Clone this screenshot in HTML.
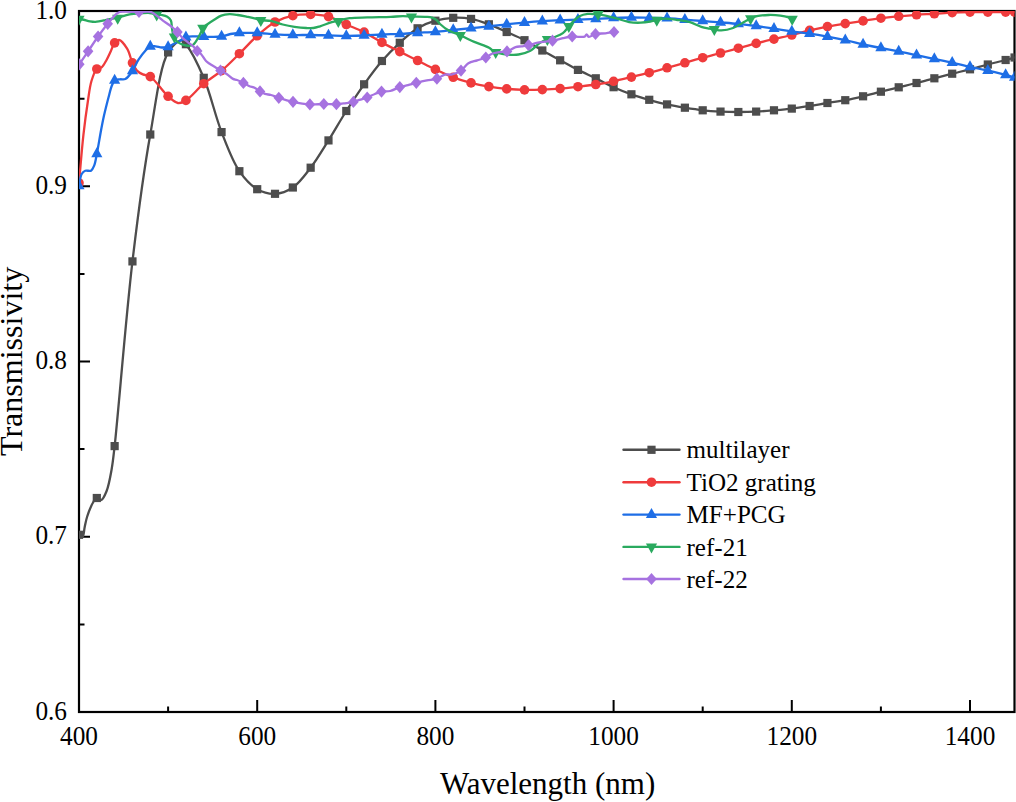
<!DOCTYPE html>
<html><head><meta charset="utf-8"><title>Transmissivity</title>
<style>html,body{margin:0;padding:0;background:#fff;}body{width:1016px;height:802px;overflow:hidden;font-family:"Liberation Serif",serif;}svg{display:block;}</style>
</head><body>
<svg width="1016" height="802" viewBox="0 0 1016 802">
<defs><clipPath id="pc"><rect x="79.0" y="11.0" width="935.5" height="701.0"/></clipPath></defs>
<rect width="1016" height="802" fill="#fff"/>
<rect x="79.0" y="11.0" width="935.5" height="701.0" fill="none" stroke="#000" stroke-width="2.2"/>
<path d="M79.00,712.00V700.00M168.10,712.00V706.50M257.20,712.00V700.00M346.30,712.00V706.50M435.40,712.00V700.00M524.50,712.00V706.50M613.60,712.00V700.00M702.70,712.00V706.50M791.80,712.00V700.00M880.90,712.00V706.50M970.00,712.00V700.00M79.00,712.00H90.00M79.00,624.38H84.50M79.00,536.75H90.00M79.00,449.12H84.50M79.00,361.50H90.00M79.00,273.88H84.50M79.00,186.25H90.00M79.00,98.63H84.50M79.00,11.00H90.00" stroke="#000" stroke-width="2" fill="none"/>
<g clip-path="url(#pc)" fill="none" stroke-width="2" stroke-linejoin="round" stroke-linecap="round">
<path d="M79.00,534.80C80.16,535.53 81.58,537.37 82.47,537.00C83.88,536.42 83.93,530.37 84.70,527.00C85.50,523.54 85.96,520.25 87.20,516.50C88.72,511.88 91.58,504.66 93.61,501.50C94.71,499.80 95.55,498.26 96.82,498.00C98.10,497.74 99.90,500.44 101.28,500.00C103.29,499.36 105.10,494.77 106.62,491.00C108.80,485.59 110.20,477.26 111.52,470.00C112.91,462.32 113.31,457.83 114.64,446.10C118.33,413.54 125.86,317.14 132.46,261.40C137.94,215.08 143.57,172.10 150.28,134.50C155.71,104.05 159.65,67.01 168.10,52.40C172.02,45.63 178.19,40.33 181.47,40.30C183.34,40.28 184.19,42.02 185.92,44.20C190.30,49.73 198.29,65.00 203.74,77.80C210.42,93.49 215.13,115.64 221.56,132.10C227.13,146.37 232.42,161.12 239.38,171.20C244.72,178.94 250.70,185.47 257.20,189.20C262.74,192.38 269.12,194.06 275.02,193.80C281.00,193.54 287.33,191.18 292.84,187.50C299.38,183.13 304.99,175.07 310.66,167.70C316.93,159.54 322.62,149.72 328.48,140.40C334.50,130.83 340.25,120.50 346.30,111.00C352.14,101.82 358.04,92.80 364.12,84.30C369.93,76.17 375.78,68.12 381.94,61.00C387.68,54.37 393.66,48.37 399.76,42.80C405.55,37.51 411.36,32.05 417.58,28.30C423.29,24.85 429.35,22.45 435.40,20.70C441.24,19.01 447.26,18.10 453.22,17.80C459.14,17.50 465.16,17.84 471.04,18.90C477.04,19.98 482.98,22.15 488.86,24.30C494.86,26.50 500.76,29.36 506.68,32.00C512.64,34.66 518.63,37.16 524.50,40.20C530.51,43.31 536.36,47.14 542.32,50.50C548.24,53.84 554.19,57.06 560.14,60.30C566.07,63.53 571.98,66.88 577.96,69.90C583.86,72.88 589.86,75.43 595.78,78.30C601.74,81.19 607.60,84.51 613.60,87.20C619.49,89.84 625.44,92.19 631.42,94.30C637.32,96.38 643.28,98.11 649.24,99.80C655.16,101.48 661.10,103.08 667.06,104.40C672.98,105.71 678.93,106.72 684.88,107.70C690.81,108.68 696.75,109.65 702.70,110.30C708.63,110.95 714.58,111.32 720.52,111.60C726.46,111.88 732.40,112.00 738.34,112.00C744.28,112.00 750.22,111.88 756.16,111.60C762.10,111.32 768.04,110.80 773.98,110.30C779.92,109.80 785.87,109.32 791.80,108.60C797.75,107.88 803.69,106.93 809.62,106.00C815.57,105.07 821.50,103.97 827.44,103.00C833.38,102.03 839.34,101.31 845.26,100.20C851.22,99.08 857.15,97.71 863.08,96.30C869.03,94.88 874.96,93.20 880.90,91.70C886.84,90.20 892.78,88.75 898.72,87.30C904.66,85.85 910.61,84.50 916.54,83.00C922.49,81.50 928.42,79.85 934.36,78.30C940.30,76.75 946.24,75.20 952.18,73.70C958.12,72.20 964.07,70.83 970.00,69.30C975.95,67.76 981.87,66.05 987.82,64.50C993.75,62.95 1000.73,61.31 1005.64,60.00C1009.13,59.07 1011.58,58.33 1014.55,57.50" stroke="#4d4d4d" stroke-width="2.3"/>
<g fill="#4d4d4d" stroke="none"><rect x="74.90" y="530.70" width="8.20" height="8.20"/><rect x="92.72" y="493.90" width="8.20" height="8.20"/><rect x="110.54" y="442.00" width="8.20" height="8.20"/><rect x="128.36" y="257.30" width="8.20" height="8.20"/><rect x="146.18" y="130.40" width="8.20" height="8.20"/><rect x="164.00" y="48.30" width="8.20" height="8.20"/><rect x="181.82" y="40.10" width="8.20" height="8.20"/><rect x="199.64" y="73.70" width="8.20" height="8.20"/><rect x="217.46" y="128.00" width="8.20" height="8.20"/><rect x="235.28" y="167.10" width="8.20" height="8.20"/><rect x="253.10" y="185.10" width="8.20" height="8.20"/><rect x="270.92" y="189.70" width="8.20" height="8.20"/><rect x="288.74" y="183.40" width="8.20" height="8.20"/><rect x="306.56" y="163.60" width="8.20" height="8.20"/><rect x="324.38" y="136.30" width="8.20" height="8.20"/><rect x="342.20" y="106.90" width="8.20" height="8.20"/><rect x="360.02" y="80.20" width="8.20" height="8.20"/><rect x="377.84" y="56.90" width="8.20" height="8.20"/><rect x="395.66" y="38.70" width="8.20" height="8.20"/><rect x="413.48" y="24.20" width="8.20" height="8.20"/><rect x="431.30" y="16.60" width="8.20" height="8.20"/><rect x="449.12" y="13.70" width="8.20" height="8.20"/><rect x="466.94" y="14.80" width="8.20" height="8.20"/><rect x="484.76" y="20.20" width="8.20" height="8.20"/><rect x="502.58" y="27.90" width="8.20" height="8.20"/><rect x="520.40" y="36.10" width="8.20" height="8.20"/><rect x="538.22" y="46.40" width="8.20" height="8.20"/><rect x="556.04" y="56.20" width="8.20" height="8.20"/><rect x="573.86" y="65.80" width="8.20" height="8.20"/><rect x="591.68" y="74.20" width="8.20" height="8.20"/><rect x="609.50" y="83.10" width="8.20" height="8.20"/><rect x="627.32" y="90.20" width="8.20" height="8.20"/><rect x="645.14" y="95.70" width="8.20" height="8.20"/><rect x="662.96" y="100.30" width="8.20" height="8.20"/><rect x="680.78" y="103.60" width="8.20" height="8.20"/><rect x="698.60" y="106.20" width="8.20" height="8.20"/><rect x="716.42" y="107.50" width="8.20" height="8.20"/><rect x="734.24" y="107.90" width="8.20" height="8.20"/><rect x="752.06" y="107.50" width="8.20" height="8.20"/><rect x="769.88" y="106.20" width="8.20" height="8.20"/><rect x="787.70" y="104.50" width="8.20" height="8.20"/><rect x="805.52" y="101.90" width="8.20" height="8.20"/><rect x="823.34" y="98.90" width="8.20" height="8.20"/><rect x="841.16" y="96.10" width="8.20" height="8.20"/><rect x="858.98" y="92.20" width="8.20" height="8.20"/><rect x="876.80" y="87.60" width="8.20" height="8.20"/><rect x="894.62" y="83.20" width="8.20" height="8.20"/><rect x="912.44" y="78.90" width="8.20" height="8.20"/><rect x="930.26" y="74.20" width="8.20" height="8.20"/><rect x="948.08" y="69.60" width="8.20" height="8.20"/><rect x="965.90" y="65.20" width="8.20" height="8.20"/><rect x="983.72" y="60.40" width="8.20" height="8.20"/><rect x="1001.54" y="55.90" width="8.20" height="8.20"/><rect x="1010.45" y="53.40" width="8.20" height="8.20"/></g>
<path d="M79.00,183.00C80.48,166.90 81.81,149.34 83.45,134.70C84.83,122.44 86.40,110.76 87.91,101.00C89.08,93.45 89.72,86.73 91.47,81.00C92.89,76.39 94.55,71.10 96.82,69.00C98.23,67.69 100.18,68.42 101.63,67.30C103.53,65.83 105.03,62.62 106.53,60.00C108.14,57.21 109.51,53.93 110.90,51.00C112.21,48.24 113.01,44.78 114.64,42.90C115.90,41.45 117.49,39.80 119.09,40.00C121.49,40.30 124.96,45.21 127.11,48.70C129.55,52.64 130.60,58.85 132.46,62.80C133.90,65.85 135.03,68.62 136.91,70.60C138.59,72.36 140.71,73.41 142.88,74.40C145.15,75.43 147.56,74.88 150.28,76.60C155.33,79.78 162.79,91.67 168.10,96.30C171.65,99.40 174.69,102.54 177.90,103.00C180.61,103.39 182.94,102.16 185.92,100.40C190.98,97.41 197.64,88.75 203.74,83.70C209.54,78.90 215.77,75.53 221.56,70.70C227.67,65.59 233.48,59.48 239.38,53.70C245.36,47.85 251.08,41.20 257.20,35.80C262.98,30.70 268.79,25.40 275.02,22.00C280.72,18.89 286.81,16.96 292.84,15.70C298.70,14.47 304.73,14.25 310.66,14.40C316.61,14.55 322.66,14.99 328.48,16.60C334.55,18.28 340.35,21.91 346.30,24.50C352.23,27.08 358.27,29.17 364.12,32.10C370.15,35.12 375.96,39.13 381.94,42.40C387.84,45.63 393.81,48.58 399.76,51.60C405.69,54.61 411.64,57.53 417.58,60.50C423.52,63.47 429.43,66.59 435.40,69.40C441.31,72.18 447.22,75.03 453.22,77.30C459.10,79.52 465.06,81.34 471.04,82.90C476.94,84.44 482.90,85.60 488.86,86.60C494.78,87.60 500.73,88.35 506.68,88.90C512.61,89.45 518.56,89.78 524.50,89.90C530.44,90.02 536.38,89.82 542.32,89.60C548.26,89.38 554.21,89.08 560.14,88.60C566.09,88.12 572.02,87.38 577.96,86.70C583.90,86.02 589.85,85.40 595.78,84.50C601.73,83.60 607.68,82.53 613.60,81.30C619.56,80.06 625.48,78.53 631.42,77.10C637.36,75.67 643.31,74.25 649.24,72.70C655.19,71.15 661.12,69.45 667.06,67.80C673.00,66.15 678.94,64.48 684.88,62.80C690.82,61.12 696.75,59.34 702.70,57.70C708.63,56.07 714.58,54.58 720.52,53.00C726.46,51.42 732.40,49.80 738.34,48.20C744.28,46.60 750.21,44.92 756.16,43.40C762.09,41.89 768.04,40.50 773.98,39.10C779.92,37.70 785.87,36.46 791.80,35.00C797.75,33.53 803.66,31.70 809.62,30.30C815.54,28.91 821.49,27.72 827.44,26.60C833.37,25.49 839.32,24.55 845.26,23.60C851.20,22.65 857.14,21.80 863.08,20.90C869.02,20.00 874.95,18.97 880.90,18.20C886.83,17.43 892.78,16.87 898.72,16.30C904.66,15.73 910.60,15.22 916.54,14.80C922.48,14.38 928.42,14.17 934.36,13.80C940.30,13.43 946.24,12.88 952.18,12.60C958.12,12.32 964.06,12.18 970.00,12.10C975.94,12.02 981.88,12.10 987.82,12.10C993.76,12.10 1000.72,12.07 1005.64,12.10C1009.12,12.12 1011.58,12.17 1014.55,12.20" stroke="#ef3b3c" stroke-width="2.3"/>
<g fill="#ef3b3c" stroke="none"><circle cx="79.00" cy="183.00" r="4.80"/><circle cx="96.82" cy="69.00" r="4.80"/><circle cx="114.64" cy="42.90" r="4.80"/><circle cx="132.46" cy="62.80" r="4.80"/><circle cx="150.28" cy="76.60" r="4.80"/><circle cx="168.10" cy="96.30" r="4.80"/><circle cx="185.92" cy="100.40" r="4.80"/><circle cx="203.74" cy="83.70" r="4.80"/><circle cx="221.56" cy="70.70" r="4.80"/><circle cx="239.38" cy="53.70" r="4.80"/><circle cx="257.20" cy="35.80" r="4.80"/><circle cx="275.02" cy="22.00" r="4.80"/><circle cx="292.84" cy="15.70" r="4.80"/><circle cx="310.66" cy="14.40" r="4.80"/><circle cx="328.48" cy="16.60" r="4.80"/><circle cx="346.30" cy="24.50" r="4.80"/><circle cx="364.12" cy="32.10" r="4.80"/><circle cx="381.94" cy="42.40" r="4.80"/><circle cx="399.76" cy="51.60" r="4.80"/><circle cx="417.58" cy="60.50" r="4.80"/><circle cx="435.40" cy="69.40" r="4.80"/><circle cx="453.22" cy="77.30" r="4.80"/><circle cx="471.04" cy="82.90" r="4.80"/><circle cx="488.86" cy="86.60" r="4.80"/><circle cx="506.68" cy="88.90" r="4.80"/><circle cx="524.50" cy="89.90" r="4.80"/><circle cx="542.32" cy="89.60" r="4.80"/><circle cx="560.14" cy="88.60" r="4.80"/><circle cx="577.96" cy="86.70" r="4.80"/><circle cx="595.78" cy="84.50" r="4.80"/><circle cx="613.60" cy="81.30" r="4.80"/><circle cx="631.42" cy="77.10" r="4.80"/><circle cx="649.24" cy="72.70" r="4.80"/><circle cx="667.06" cy="67.80" r="4.80"/><circle cx="684.88" cy="62.80" r="4.80"/><circle cx="702.70" cy="57.70" r="4.80"/><circle cx="720.52" cy="53.00" r="4.80"/><circle cx="738.34" cy="48.20" r="4.80"/><circle cx="756.16" cy="43.40" r="4.80"/><circle cx="773.98" cy="39.10" r="4.80"/><circle cx="791.80" cy="35.00" r="4.80"/><circle cx="809.62" cy="30.30" r="4.80"/><circle cx="827.44" cy="26.60" r="4.80"/><circle cx="845.26" cy="23.60" r="4.80"/><circle cx="863.08" cy="20.90" r="4.80"/><circle cx="880.90" cy="18.20" r="4.80"/><circle cx="898.72" cy="16.30" r="4.80"/><circle cx="916.54" cy="14.80" r="4.80"/><circle cx="934.36" cy="13.80" r="4.80"/><circle cx="952.18" cy="12.60" r="4.80"/><circle cx="970.00" cy="12.10" r="4.80"/><circle cx="987.82" cy="12.10" r="4.80"/><circle cx="1005.64" cy="12.10" r="4.80"/><circle cx="1014.55" cy="12.20" r="4.80"/></g>
<path d="M79.00,186.00C79.89,182.00 80.17,176.62 81.67,174.00C82.62,172.35 83.77,171.27 85.24,170.70C86.84,170.07 89.55,171.53 91.03,170.70C92.53,169.86 93.28,167.73 94.15,165.60C95.38,162.59 95.89,158.58 96.82,154.00C98.16,147.45 99.82,136.78 101.10,130.00C102.04,125.00 102.73,121.32 103.68,117.00C104.63,112.66 105.80,107.99 106.80,104.00C107.66,100.58 108.47,97.53 109.29,94.50C110.05,91.72 110.56,88.93 111.52,86.50C112.39,84.31 113.11,81.68 114.64,80.50C116.02,79.44 118.19,79.55 119.99,79.30C121.76,79.05 123.59,79.84 125.33,79.00C127.79,77.81 130.32,74.06 132.46,71.00C134.84,67.59 136.01,63.12 138.70,59.30C141.76,54.94 146.84,48.10 150.28,46.50C152.19,45.61 153.78,46.16 155.63,46.30C157.63,46.45 159.78,47.42 161.86,47.50C163.94,47.58 166.15,47.40 168.10,46.80C170.01,46.22 171.53,44.98 173.45,44.00C175.65,42.87 178.39,41.60 180.57,40.40C182.50,39.34 183.93,37.89 185.92,37.20C188.06,36.46 190.43,36.42 193.05,36.30C196.25,36.16 199.72,36.65 203.74,36.70C208.92,36.77 216.68,37.20 221.56,36.50C225.08,36.00 227.48,34.58 230.47,34.00C233.42,33.43 235.89,33.20 239.38,33.00C244.29,32.73 251.26,32.78 257.20,33.00C263.14,33.22 269.08,33.97 275.02,34.30C280.96,34.63 286.90,34.88 292.84,35.00C298.78,35.12 304.72,34.93 310.66,35.00C316.60,35.07 322.54,35.27 328.48,35.40C334.42,35.53 340.36,35.78 346.30,35.80C352.24,35.82 358.18,35.72 364.12,35.50C370.06,35.28 376.00,34.77 381.94,34.50C387.88,34.23 393.82,34.18 399.76,33.90C405.70,33.62 411.64,33.15 417.58,32.80C423.52,32.45 429.47,32.27 435.40,31.80C441.35,31.33 447.28,30.60 453.22,30.00C459.16,29.40 465.10,28.80 471.04,28.20C476.98,27.60 482.92,27.05 488.86,26.40C494.80,25.75 500.74,24.93 506.68,24.30C512.62,23.67 518.56,23.12 524.50,22.60C530.44,22.08 536.38,21.60 542.32,21.20C548.26,20.80 554.20,20.47 560.14,20.20C566.08,19.93 572.02,19.83 577.96,19.60C583.90,19.37 589.84,19.07 595.78,18.80C601.72,18.53 607.66,18.22 613.60,18.00C619.54,17.78 625.48,17.53 631.42,17.50C637.36,17.47 643.30,17.68 649.24,17.80C655.18,17.92 661.12,17.90 667.06,18.20C673.00,18.50 678.94,19.13 684.88,19.60C690.82,20.07 696.76,20.53 702.70,21.00C708.64,21.47 714.58,21.92 720.52,22.40C726.46,22.88 732.40,23.30 738.34,23.90C744.29,24.50 750.23,25.22 756.16,26.00C762.11,26.78 768.04,27.72 773.98,28.60C779.92,29.48 785.86,30.45 791.80,31.30C797.74,32.15 803.69,32.80 809.62,33.70C815.57,34.60 821.51,35.62 827.44,36.70C833.39,37.78 839.33,38.94 845.26,40.20C851.21,41.47 857.13,43.00 863.08,44.30C869.01,45.60 874.95,46.83 880.90,48.00C886.83,49.17 892.79,50.10 898.72,51.30C904.67,52.50 910.60,53.93 916.54,55.20C922.48,56.47 928.42,57.67 934.36,58.90C940.30,60.13 946.25,61.29 952.18,62.60C958.13,63.92 964.05,65.45 970.00,66.80C975.93,68.15 981.89,69.35 987.82,70.70C993.77,72.05 1000.73,73.63 1005.64,74.90C1009.13,75.80 1011.58,76.57 1014.55,77.40" stroke="#1e6ee6" stroke-width="2.3"/>
<g fill="#1e6ee6" stroke="none"><path d="M79.00,179.33L84.60,189.33L73.40,189.33Z"/><path d="M96.82,147.33L102.42,157.33L91.22,157.33Z"/><path d="M114.64,73.83L120.24,83.83L109.04,83.83Z"/><path d="M132.46,64.33L138.06,74.33L126.86,74.33Z"/><path d="M150.28,39.83L155.88,49.83L144.68,49.83Z"/><path d="M168.10,40.13L173.70,50.13L162.50,50.13Z"/><path d="M185.92,30.53L191.52,40.53L180.32,40.53Z"/><path d="M203.74,30.03L209.34,40.03L198.14,40.03Z"/><path d="M221.56,29.83L227.16,39.83L215.96,39.83Z"/><path d="M239.38,26.33L244.98,36.33L233.78,36.33Z"/><path d="M257.20,26.33L262.80,36.33L251.60,36.33Z"/><path d="M275.02,27.63L280.62,37.63L269.42,37.63Z"/><path d="M292.84,28.33L298.44,38.33L287.24,38.33Z"/><path d="M310.66,28.33L316.26,38.33L305.06,38.33Z"/><path d="M328.48,28.73L334.08,38.73L322.88,38.73Z"/><path d="M346.30,29.13L351.90,39.13L340.70,39.13Z"/><path d="M364.12,28.83L369.72,38.83L358.52,38.83Z"/><path d="M381.94,27.83L387.54,37.83L376.34,37.83Z"/><path d="M399.76,27.23L405.36,37.23L394.16,37.23Z"/><path d="M417.58,26.13L423.18,36.13L411.98,36.13Z"/><path d="M435.40,25.13L441.00,35.13L429.80,35.13Z"/><path d="M453.22,23.33L458.82,33.33L447.62,33.33Z"/><path d="M471.04,21.53L476.64,31.53L465.44,31.53Z"/><path d="M488.86,19.73L494.46,29.73L483.26,29.73Z"/><path d="M506.68,17.63L512.28,27.63L501.08,27.63Z"/><path d="M524.50,15.93L530.10,25.93L518.90,25.93Z"/><path d="M542.32,14.53L547.92,24.53L536.72,24.53Z"/><path d="M560.14,13.53L565.74,23.53L554.54,23.53Z"/><path d="M577.96,12.93L583.56,22.93L572.36,22.93Z"/><path d="M595.78,12.13L601.38,22.13L590.18,22.13Z"/><path d="M613.60,11.33L619.20,21.33L608.00,21.33Z"/><path d="M631.42,10.83L637.02,20.83L625.82,20.83Z"/><path d="M649.24,11.13L654.84,21.13L643.64,21.13Z"/><path d="M667.06,11.53L672.66,21.53L661.46,21.53Z"/><path d="M684.88,12.93L690.48,22.93L679.28,22.93Z"/><path d="M702.70,14.33L708.30,24.33L697.10,24.33Z"/><path d="M720.52,15.73L726.12,25.73L714.92,25.73Z"/><path d="M738.34,17.23L743.94,27.23L732.74,27.23Z"/><path d="M756.16,19.33L761.76,29.33L750.56,29.33Z"/><path d="M773.98,21.93L779.58,31.93L768.38,31.93Z"/><path d="M791.80,24.63L797.40,34.63L786.20,34.63Z"/><path d="M809.62,27.03L815.22,37.03L804.02,37.03Z"/><path d="M827.44,30.03L833.04,40.03L821.84,40.03Z"/><path d="M845.26,33.53L850.86,43.53L839.66,43.53Z"/><path d="M863.08,37.63L868.68,47.63L857.48,47.63Z"/><path d="M880.90,41.33L886.50,51.33L875.30,51.33Z"/><path d="M898.72,44.63L904.32,54.63L893.12,54.63Z"/><path d="M916.54,48.53L922.14,58.53L910.94,58.53Z"/><path d="M934.36,52.23L939.96,62.23L928.76,62.23Z"/><path d="M952.18,55.93L957.78,65.93L946.58,65.93Z"/><path d="M970.00,60.13L975.60,70.13L964.40,70.13Z"/><path d="M987.82,64.03L993.42,74.03L982.22,74.03Z"/><path d="M1005.64,68.23L1011.24,78.23L1000.04,78.23Z"/><path d="M1014.55,70.73L1020.15,80.73L1008.95,80.73Z"/></g>
<path d="M79.00,19.20C80.13,19.30 81.05,19.27 82.40,19.50C84.44,19.84 87.67,21.00 90.00,21.40C91.94,21.73 93.68,21.95 95.40,21.90C97.00,21.85 98.40,21.48 100.00,21.20C101.75,20.89 103.67,20.47 105.50,20.10C107.33,19.73 109.08,19.39 111.00,19.00C113.12,18.57 115.16,18.21 117.70,17.60C121.09,16.79 125.54,15.12 129.50,14.40C133.40,13.69 137.71,13.53 141.30,13.30C144.31,13.11 146.95,12.81 149.60,13.00C152.07,13.18 154.57,13.95 156.70,14.30C158.43,14.59 159.76,14.63 161.40,15.00C163.27,15.42 165.67,15.82 167.30,16.80C168.78,17.69 170.10,18.78 170.90,20.40C171.92,22.46 171.54,25.95 172.00,28.60C172.44,31.14 172.72,33.82 173.60,36.00C174.39,37.96 175.35,39.79 176.80,41.20C178.34,42.69 180.57,43.85 182.70,44.60C184.89,45.37 187.86,45.85 189.80,45.70C191.19,45.60 192.18,45.41 193.30,44.60C194.96,43.40 196.61,40.37 198.00,38.10C199.38,35.84 200.70,32.91 201.60,31.00C202.20,29.73 202.24,28.79 203.00,27.80C203.93,26.58 205.52,25.66 207.10,24.50C209.11,23.03 211.81,21.29 214.20,19.80C216.55,18.33 218.76,16.53 221.30,15.60C223.85,14.66 226.75,14.30 229.50,14.20C232.25,14.10 234.96,14.59 237.80,15.00C240.85,15.44 244.17,16.18 247.20,16.80C250.06,17.38 253.05,17.97 255.50,18.60C257.48,19.11 258.73,19.82 260.80,20.20C263.60,20.71 267.44,20.26 270.90,20.90C274.72,21.61 278.74,23.51 282.70,24.50C286.61,25.47 290.55,26.22 294.50,26.80C298.42,27.38 302.86,27.83 306.30,28.00C308.96,28.13 311.09,28.29 313.40,28.00C315.66,27.71 317.50,27.06 320.00,26.30C323.39,25.26 328.43,23.11 331.80,22.10C334.27,21.36 335.83,21.06 338.30,20.50C341.52,19.77 345.32,18.72 349.50,18.20C354.71,17.55 360.87,17.62 367.20,17.40C374.52,17.14 384.36,17.05 390.90,16.80C395.51,16.62 399.05,16.23 402.70,16.20C405.85,16.17 408.19,16.41 411.50,16.50C415.80,16.62 422.53,16.50 426.30,16.80C428.65,16.99 430.26,17.03 432.00,17.60C433.64,18.13 435.18,18.95 436.50,20.00C437.85,21.07 438.46,22.58 440.00,24.00C442.26,26.08 445.86,28.93 449.20,30.80C452.62,32.71 456.41,33.60 460.30,35.30C464.72,37.24 469.54,39.83 474.30,41.90C479.13,44.00 485.71,45.86 489.10,47.80C491.10,48.94 491.96,50.32 493.50,51.20C494.94,52.02 496.22,52.50 498.00,53.00C500.42,53.68 503.64,54.23 506.80,54.50C510.43,54.81 514.71,55.10 518.60,54.50C522.58,53.89 526.91,52.70 530.40,50.80C533.78,48.96 536.30,45.43 539.30,43.40C541.98,41.59 544.64,40.13 547.40,39.00C550.04,37.92 552.90,37.69 555.50,36.70C558.07,35.72 560.72,34.76 562.90,33.10C565.17,31.37 566.90,28.56 568.80,26.40C570.59,24.37 572.17,22.24 574.00,20.50C575.71,18.87 577.28,17.28 579.40,16.20C581.77,14.99 584.75,14.23 587.70,13.90C590.94,13.54 594.95,14.07 598.10,14.40C600.76,14.68 602.69,15.03 605.40,15.60C608.88,16.33 613.27,17.52 617.20,18.60C621.17,19.69 625.10,21.42 629.10,22.10C633.00,22.76 637.20,22.84 640.90,22.70C644.22,22.57 647.47,22.01 650.30,21.50C652.68,21.08 654.54,20.47 656.80,20.00C659.25,19.49 661.65,18.71 664.50,18.60C668.01,18.46 672.23,19.25 676.30,19.80C680.71,20.39 685.72,20.87 690.00,22.10C694.02,23.26 697.79,25.69 701.30,26.80C704.21,27.72 707.13,28.14 709.50,28.60C711.31,28.95 712.55,29.13 714.30,29.40C716.41,29.73 718.67,30.48 721.30,30.40C724.73,30.30 729.26,29.40 733.10,28.00C737.17,26.51 741.76,23.22 745.00,21.50C747.21,20.33 748.66,19.47 750.60,18.60C752.59,17.70 754.36,16.79 756.80,16.20C760.06,15.42 764.66,15.10 768.60,15.00C772.53,14.90 776.83,15.13 780.40,15.60C783.43,16.00 786.55,16.69 788.70,17.40C790.15,17.88 791.03,18.47 792.20,19.00" stroke="#2aaa5f" stroke-width="2.3"/>
<g fill="#2aaa5f" stroke="none"><path d="M73.40,15.87L84.60,15.87L79.00,25.87Z"/><path d="M112.10,14.67L123.30,14.67L117.70,24.67Z"/><path d="M151.10,11.57L162.30,11.57L156.70,21.57Z"/><path d="M168.80,33.57L180.00,33.57L174.40,43.57Z"/><path d="M197.20,24.67L208.40,24.67L202.80,34.67Z"/><path d="M255.20,17.07L266.40,17.07L260.80,27.07Z"/><path d="M332.70,17.97L343.90,17.97L338.30,27.97Z"/><path d="M405.90,13.47L417.10,13.47L411.50,23.47Z"/><path d="M454.70,31.97L465.90,31.97L460.30,41.97Z"/><path d="M490.10,48.97L501.30,48.97L495.70,58.97Z"/><path d="M541.80,36.07L553.00,36.07L547.40,46.07Z"/><path d="M563.20,23.07L574.40,23.07L568.80,33.07Z"/><path d="M592.50,11.07L603.70,11.07L598.10,21.07Z"/><path d="M651.20,16.67L662.40,16.67L656.80,26.67Z"/><path d="M708.70,26.07L719.90,26.07L714.30,36.07Z"/><path d="M745.00,15.27L756.20,15.27L750.60,25.27Z"/><path d="M786.60,15.87L797.80,15.87L792.20,25.87Z"/></g>
<path d="M79.30,64.30C82.23,59.97 85.07,55.77 88.10,51.30C91.33,46.53 94.74,41.20 98.10,36.50C101.27,32.06 104.37,27.80 107.70,23.80C110.91,19.95 114.52,14.73 117.70,12.90C119.73,11.73 121.15,11.83 123.60,11.60C127.51,11.23 134.21,11.94 139.00,12.00C143.19,12.05 147.64,11.11 150.80,12.00C153.22,12.68 154.78,14.24 156.70,15.60C158.72,17.03 160.60,18.90 162.60,20.40C164.54,21.86 166.66,23.17 168.50,24.50C170.17,25.70 171.72,26.73 173.20,28.00C174.68,29.27 175.95,30.57 177.40,32.10C179.10,33.88 180.80,36.30 182.70,38.10C184.54,39.85 186.73,41.36 188.60,42.80C190.24,44.07 191.88,44.95 193.30,46.30C194.75,47.68 195.84,49.67 197.20,51.00C198.42,52.19 199.74,52.68 201.00,54.00C202.68,55.76 204.29,59.25 206.00,61.00C207.31,62.34 208.57,63.04 210.00,64.00C211.55,65.04 213.30,65.95 215.00,67.00C216.80,68.11 218.58,69.34 220.50,70.50C222.56,71.74 224.93,72.81 227.00,74.20C229.09,75.61 231.11,77.95 233.00,78.90C234.39,79.60 235.53,79.47 237.00,80.00C238.91,80.69 241.36,81.87 243.40,82.90C245.35,83.88 247.06,85.15 249.00,86.00C250.93,86.85 253.15,87.08 255.00,88.00C256.81,88.90 258.30,90.40 260.00,91.40C261.64,92.36 263.21,93.30 265.00,93.90C266.87,94.52 268.89,94.43 271.00,95.00C273.46,95.66 275.79,96.84 278.80,97.80C282.81,99.08 288.03,100.72 293.00,101.80C298.35,102.96 304.53,104.07 309.90,104.40C314.75,104.70 319.28,104.03 323.80,104.00C328.10,103.97 332.71,104.36 336.40,104.20C339.31,104.07 341.50,103.76 344.20,103.40C347.15,103.01 350.67,102.57 353.40,101.90C355.67,101.35 357.35,100.59 359.50,99.90C361.91,99.13 364.66,98.47 367.20,97.50C369.80,96.51 372.41,95.02 374.90,94.00C377.17,93.07 379.11,92.11 381.50,91.60C384.16,91.04 387.28,91.67 390.20,91.00C393.38,90.26 396.69,88.10 399.80,87.10C402.61,86.19 405.26,85.81 408.00,85.10C410.76,84.38 413.36,83.54 416.30,82.80C419.59,81.97 423.32,81.09 426.80,80.40C430.19,79.73 433.81,79.73 436.90,78.70C439.78,77.74 442.14,75.29 444.80,74.60C447.21,73.98 449.60,74.95 452.10,74.40C454.98,73.77 458.32,72.40 461.00,70.60C463.78,68.74 465.60,65.01 468.40,63.30C471.04,61.69 474.29,61.37 477.20,60.40C480.08,59.44 483.23,58.70 485.80,57.50C488.10,56.42 489.76,54.58 492.00,53.70C494.28,52.80 496.91,52.58 499.40,52.20C501.91,51.81 504.46,52.14 507.00,51.40C509.85,50.57 512.94,47.92 515.60,47.10C517.69,46.45 519.44,46.60 521.50,46.30C523.76,45.97 526.10,45.75 528.60,45.20C531.49,44.57 534.35,43.31 537.80,42.60C542.10,41.72 548.04,41.52 552.50,40.70C556.29,40.00 559.52,38.91 562.90,38.20C566.08,37.53 569.78,36.66 572.20,36.50C573.74,36.40 574.48,36.67 576.00,36.70C578.29,36.75 582.83,37.42 584.60,36.60C585.65,36.11 585.92,34.30 586.60,34.30C587.32,34.30 587.75,36.65 588.80,36.90C590.34,37.26 592.99,34.61 595.50,34.00C598.43,33.29 602.22,33.65 605.40,33.30C608.37,32.97 611.13,32.43 614.00,32.00" stroke="#a672e0" stroke-width="2.3"/>
<g fill="#a672e0" stroke="none"><path d="M79.30,58.20L84.60,64.30L79.30,70.40L74.00,64.30Z"/><path d="M88.10,45.20L93.40,51.30L88.10,57.40L82.80,51.30Z"/><path d="M98.10,30.40L103.40,36.50L98.10,42.60L92.80,36.50Z"/><path d="M107.70,17.70L113.00,23.80L107.70,29.90L102.40,23.80Z"/><path d="M139.00,5.90L144.30,12.00L139.00,18.10L133.70,12.00Z"/><path d="M177.40,26.00L182.70,32.10L177.40,38.20L172.10,32.10Z"/><path d="M197.20,44.90L202.50,51.00L197.20,57.10L191.90,51.00Z"/><path d="M220.50,64.40L225.80,70.50L220.50,76.60L215.20,70.50Z"/><path d="M243.40,76.80L248.70,82.90L243.40,89.00L238.10,82.90Z"/><path d="M260.00,85.30L265.30,91.40L260.00,97.50L254.70,91.40Z"/><path d="M278.80,91.70L284.10,97.80L278.80,103.90L273.50,97.80Z"/><path d="M293.00,95.70L298.30,101.80L293.00,107.90L287.70,101.80Z"/><path d="M309.90,98.30L315.20,104.40L309.90,110.50L304.60,104.40Z"/><path d="M323.80,97.90L329.10,104.00L323.80,110.10L318.50,104.00Z"/><path d="M336.40,98.10L341.70,104.20L336.40,110.30L331.10,104.20Z"/><path d="M353.40,95.80L358.70,101.90L353.40,108.00L348.10,101.90Z"/><path d="M367.20,91.40L372.50,97.50L367.20,103.60L361.90,97.50Z"/><path d="M381.50,85.50L386.80,91.60L381.50,97.70L376.20,91.60Z"/><path d="M399.80,81.00L405.10,87.10L399.80,93.20L394.50,87.10Z"/><path d="M416.30,76.70L421.60,82.80L416.30,88.90L411.00,82.80Z"/><path d="M436.90,72.60L442.20,78.70L436.90,84.80L431.60,78.70Z"/><path d="M461.00,64.50L466.30,70.60L461.00,76.70L455.70,70.60Z"/><path d="M485.80,51.40L491.10,57.50L485.80,63.60L480.50,57.50Z"/><path d="M507.00,45.30L512.30,51.40L507.00,57.50L501.70,51.40Z"/><path d="M528.60,39.10L533.90,45.20L528.60,51.30L523.30,45.20Z"/><path d="M552.50,34.60L557.80,40.70L552.50,46.80L547.20,40.70Z"/><path d="M572.20,30.40L577.50,36.50L572.20,42.60L566.90,36.50Z"/><path d="M595.50,27.90L600.80,34.00L595.50,40.10L590.20,34.00Z"/><path d="M614.00,25.90L619.30,32.00L614.00,38.10L608.70,32.00Z"/></g>
</g>
<g font-family="Liberation Serif, serif" font-size="27.5" fill="#000">
<text transform="translate(67,719.60) scale(0.92,1)" text-anchor="end">0.6</text>
<text transform="translate(67,544.35) scale(0.92,1)" text-anchor="end">0.7</text>
<text transform="translate(67,369.10) scale(0.92,1)" text-anchor="end">0.8</text>
<text transform="translate(67,193.85) scale(0.92,1)" text-anchor="end">0.9</text>
<text transform="translate(67,18.60) scale(0.92,1)" text-anchor="end">1.0</text>
<text transform="translate(79.00,745.3) scale(0.92,1)" text-anchor="middle">400</text>
<text transform="translate(257.20,745.3) scale(0.92,1)" text-anchor="middle">600</text>
<text transform="translate(435.40,745.3) scale(0.92,1)" text-anchor="middle">800</text>
<text transform="translate(613.60,745.3) scale(0.92,1)" text-anchor="middle">1000</text>
<text transform="translate(791.80,745.3) scale(0.92,1)" text-anchor="middle">1200</text>
<text transform="translate(970.00,745.3) scale(0.92,1)" text-anchor="middle">1400</text>
</g>
<text x="547.6" y="794" text-anchor="middle" font-family="Liberation Serif, serif" font-size="31">Wavelength (nm)</text>
<text transform="translate(22,361.4) rotate(-90) scale(1.033,1)" text-anchor="middle" font-family="Liberation Serif, serif" font-size="31">Transmissivity</text>
<path d="M623.5,449.80H679.5" stroke="#4d4d4d" stroke-width="2.4" stroke-linecap="round"/>
<g fill="#4d4d4d"><rect x="647.40" y="445.70" width="8.20" height="8.20"/></g>
<text transform="translate(686.5,458.40) scale(0.965,1)" font-family="Liberation Serif, serif" font-size="26">multilayer</text>
<path d="M623.5,482.20H679.5" stroke="#ef3b3c" stroke-width="2.4" stroke-linecap="round"/>
<g fill="#ef3b3c"><circle cx="651.50" cy="482.20" r="4.80"/></g>
<text transform="translate(686.5,490.80) scale(0.965,1)" font-family="Liberation Serif, serif" font-size="26">TiO2 grating</text>
<path d="M623.5,514.60H679.5" stroke="#1e6ee6" stroke-width="2.4" stroke-linecap="round"/>
<g fill="#1e6ee6"><path d="M651.50,507.93L657.10,517.93L645.90,517.93Z"/></g>
<text transform="translate(686.5,523.20) scale(0.965,1)" font-family="Liberation Serif, serif" font-size="26">MF+PCG</text>
<path d="M623.5,546.90H679.5" stroke="#2aaa5f" stroke-width="2.4" stroke-linecap="round"/>
<g fill="#2aaa5f"><path d="M645.90,543.57L657.10,543.57L651.50,553.57Z"/></g>
<text transform="translate(686.5,555.50) scale(0.965,1)" font-family="Liberation Serif, serif" font-size="26">ref-21</text>
<path d="M623.5,579.00H679.5" stroke="#a672e0" stroke-width="2.4" stroke-linecap="round"/>
<g fill="#a672e0"><path d="M651.50,572.90L656.80,579.00L651.50,585.10L646.20,579.00Z"/></g>
<text transform="translate(686.5,587.60) scale(0.965,1)" font-family="Liberation Serif, serif" font-size="26">ref-22</text>
</svg>
</body></html>
